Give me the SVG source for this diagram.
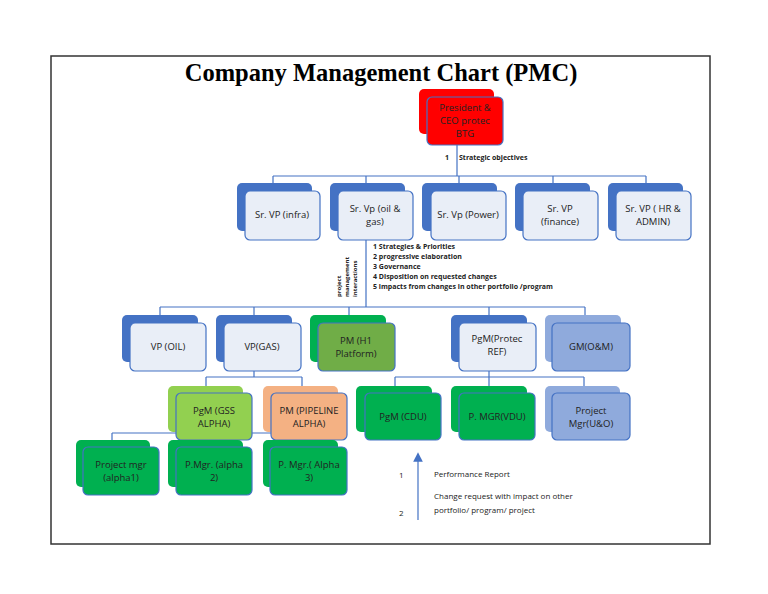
<svg xmlns="http://www.w3.org/2000/svg" width="768" height="594" viewBox="0 0 768 594">
<style>
text{font-family:"Open Sans","Liberation Sans",sans-serif;font-size:9.5px;fill:#222;text-anchor:middle}
.s{font-size:7px;font-weight:bold;text-anchor:start}
.l{font-size:8px;text-anchor:start}
.fr{stroke:#4472C4;stroke-width:1.2}
.c{fill:none;stroke:#4472C4;stroke-width:1.2}
</style>
<defs><marker id="ar" markerWidth="8" markerHeight="8" refX="4" refY="4" orient="auto"><path d="M0,0L8,4L0,8z" fill="#4472C4"/></marker></defs>
<rect width="768" height="594" fill="#fff"/>
<rect x="51" y="56" width="659" height="488" fill="none" stroke="#333" stroke-width="1.5"/>
<text x="381" y="81" style="font-family:'Liberation Serif',serif;font-size:24.5px;font-weight:bold;fill:#000">Company Management Chart (PMC)</text>
<g id="connectors" class="c">
<path d="M457,145V176M273,176H646M273,176V184M366,176V184M459,176V184M553,176V184M646,176V184"/>
<path d="M366,240V307M160,307H585M160,307V315M254,307V315M349,307V315M489,307V315M585,307V315"/>
<path d="M254,371V377M206,377H302M206,377V386M302,377V386"/>
<path d="M489,371V377M395,377H584M395,377V386M489,377V386M584,377V386"/>
<path d="M112,433H272M112,433V440M208,433V440M302,433V440"/>
<path d="M418,520V457" marker-end="url(#ar)"/>
</g>
<g id="ceo"><rect x="419" y="89" width="75" height="45" rx="5" fill="#FF0000"/><rect x="427" y="97" width="76" height="48" rx="5" fill="#FF0000" class="fr"/><text x="465" y="111">President &amp;</text><text x="465" y="124">CEO protec</text><text x="465" y="137">BTG</text></g>
<g id="svp1"><rect x="237" y="183" width="75" height="48" rx="5" fill="#4472C4"/><rect x="245" y="191" width="75" height="49" rx="5" fill="#E9EEF7" class="fr"/><text x="282" y="218">Sr. VP (infra)</text></g>
<g id="svp2"><rect x="330" y="183" width="75" height="48" rx="5" fill="#4472C4"/><rect x="338" y="191" width="75" height="49" rx="5" fill="#E9EEF7" class="fr"/><text x="375" y="212">Sr. Vp (oil &amp;</text><text x="375" y="225">gas)</text></g>
<g id="svp3"><rect x="422" y="183" width="75" height="48" rx="5" fill="#4472C4"/><rect x="431" y="191" width="75" height="49" rx="5" fill="#E9EEF7" class="fr"/><text x="468" y="218">Sr. Vp (Power)</text></g>
<g id="svp4"><rect x="515" y="183" width="75" height="48" rx="5" fill="#4472C4"/><rect x="523" y="191" width="75" height="49" rx="5" fill="#E9EEF7" class="fr"/><text x="560" y="212">Sr. VP</text><text x="560" y="225">(finance)</text></g>
<g id="svp5"><rect x="608" y="183" width="75" height="48" rx="5" fill="#4472C4"/><rect x="616" y="191" width="75" height="49" rx="5" fill="#E9EEF7" class="fr"/><text x="653" y="212">Sr. VP ( HR &amp;</text><text x="653" y="225">ADMIN)</text></g>
<g id="lbl1"><text class="s" x="445" y="160">1</text><text class="s" x="459" y="160">Strategic objectives</text></g>
<g id="lbl2"><text class="s" x="373" y="249">1 Strategies &amp; Priorities</text><text class="s" x="373" y="259">2 progressive elaboration</text><text class="s" x="373" y="269">3 Governance</text><text class="s" x="373" y="279">4 Disposition on requested changes</text><text class="s" x="373" y="289">5 impacts from changes in other portfolio /program</text>
<g transform="translate(341,297) rotate(-90)"><text class="s" x="0" y="0" style="font-size:6px">project</text><text class="s" x="0" y="8" style="font-size:6px">management</text><text class="s" x="0" y="16" style="font-size:6px">interactions</text></g></g>
<g id="vpoil"><rect x="122" y="315" width="76" height="47" rx="5" fill="#4472C4"/><rect x="130" y="323" width="76" height="48" rx="5" fill="#E9EEF7" class="fr"/><text x="168" y="350">VP (OIL)</text></g>
<g id="vpgas"><rect x="216" y="315" width="76" height="47" rx="5" fill="#4472C4"/><rect x="224" y="323" width="77" height="48" rx="5" fill="#E9EEF7" class="fr"/><text x="262" y="350">VP(GAS)</text></g>
<g id="pmh1"><rect x="310" y="315" width="76" height="47" rx="5" fill="#00B050"/><rect x="318" y="323" width="77" height="48" rx="5" fill="#70AD47" class="fr"/><text x="356" y="344">PM (H1</text><text x="356" y="357">Platform)</text></g>
<g id="pgmprotec"><rect x="451" y="315" width="76" height="47" rx="5" fill="#4472C4"/><rect x="459" y="323" width="77" height="48" rx="5" fill="#E9EEF7" class="fr"/><text x="497" y="342">PgM(Protec</text><text x="497" y="355">REF)</text></g>
<g id="gm"><rect x="545" y="315" width="76" height="47" rx="5" fill="#8FAADC"/><rect x="552" y="323" width="78" height="48" rx="5" fill="#8FAADC" class="fr"/><text x="591" y="350">GM(O&amp;M)</text></g>
<g id="pgmgss"><rect x="168" y="386" width="75" height="46" rx="5" fill="#92D050"/><rect x="176" y="393" width="76" height="47" rx="5" fill="#92D050" class="fr"/><text x="214" y="414">PgM (GSS</text><text x="214" y="427">ALPHA)</text></g>
<g id="pmpipe"><rect x="263" y="386" width="75" height="46" rx="5" fill="#F4B183"/><rect x="271" y="393" width="76" height="47" rx="5" fill="#F4B183" class="fr"/><text x="309" y="414">PM (PIPELINE</text><text x="309" y="427">ALPHA)</text></g>
<g id="pgmcdu"><rect x="356" y="386" width="76" height="46" rx="5" fill="#00B050"/><rect x="365" y="393" width="76" height="47" rx="5" fill="#00B050" class="fr"/><text x="403" y="420">PgM (CDU)</text></g>
<g id="pmgrvdu"><rect x="451" y="386" width="76" height="46" rx="5" fill="#00B050"/><rect x="459" y="393" width="76" height="47" rx="5" fill="#00B050" class="fr"/><text x="497" y="420">P. MGR(VDU)</text></g>
<g id="pmuo"><rect x="545" y="386" width="75" height="46" rx="5" fill="#8FAADC"/><rect x="552" y="393" width="78" height="47" rx="5" fill="#8FAADC" class="fr"/><text x="591" y="414">Project</text><text x="591" y="427">Mgr(U&amp;O)</text></g>
<g id="pm1"><rect x="76" y="440" width="74" height="47" rx="5" fill="#00B050"/><rect x="83" y="447" width="76" height="48" rx="5" fill="#00B050" class="fr"/><text x="121" y="468">Project mgr</text><text x="121" y="481">(alpha1)</text></g>
<g id="pm2"><rect x="168" y="440" width="75" height="47" rx="5" fill="#00B050"/><rect x="176" y="447" width="76" height="48" rx="5" fill="#00B050" class="fr"/><text x="214" y="468">P.Mgr. (alpha</text><text x="214" y="481">2)</text></g>
<g id="pm3"><rect x="263" y="440" width="75" height="47" rx="5" fill="#00B050"/><rect x="270" y="447" width="77" height="48" rx="5" fill="#00B050" class="fr"/><text x="309" y="468">P. Mgr.( Alpha</text><text x="309" y="481">3)</text></g>
<g id="legend"><text class="l" x="399" y="478">1</text><text class="l" x="434" y="477">Performance Report</text><text class="l" x="434" y="499">Change request with impact on other</text><text class="l" x="434" y="513">portfolio/ program/ project</text><text class="l" x="399" y="516">2</text></g>
</svg>
